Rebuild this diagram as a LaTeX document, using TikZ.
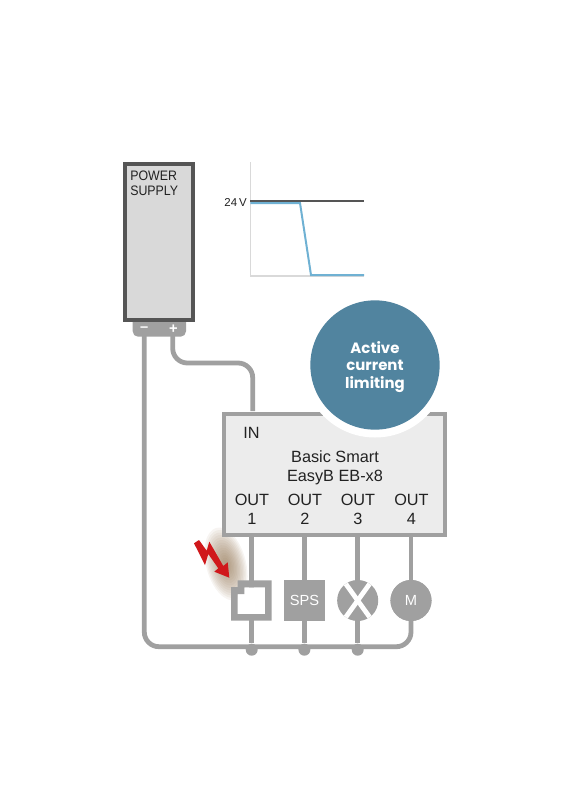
\documentclass[tikz,border=0pt]{standalone}
\usepackage{fontspec}
\setmainfont{Liberation Sans}
\newfontfamily\boldwide{Poppins}[UprightFont=* Bold]
\newfontfamily\narrowf{Liberation Sans}[FakeStretch=0.9]
\definecolor{wirec}{HTML}{A0A0A0}
\definecolor{dark}{HTML}{555555}
\definecolor{psfill}{HTML}{D9D9D9}
\definecolor{boxfill}{HTML}{ECECEC}
\definecolor{teal}{HTML}{51849F}
\definecolor{curve}{HTML}{6FB1D3}
\definecolor{bolt}{HTML}{D0181B}
\definecolor{glow}{HTML}{8A6A45}
\definecolor{txt}{HTML}{222222}
\tikzset{
  x=0.75pt,y=-0.75pt,
  wire/.style={draw=wirec,line width=3.6pt},
  device/.style={rectangle,fill=wirec,minimum width=30.7pt,minimum height=30.5pt,inner sep=0pt,outer sep=0pt},
  round device/.style={circle,fill=wirec,minimum size=30.8pt,inner sep=0pt,outer sep=0pt},
  joint/.style={circle,fill=wirec,minimum size=9pt,inner sep=0pt},
  label/.style={text=txt,font=\fontsize{12.2}{14.2}\selectfont,align=center,inner sep=0pt},
  devlabel/.style={text=white,font=\fontsize{11}{13}\selectfont,inner sep=0pt},
  mainbox/.style={rectangle,draw=wirec,fill=boxfill,line width=3pt,minimum width=165.8pt,minimum height=91pt,inner sep=0pt,outer sep=0pt},
}
\begin{document}
\begin{tikzpicture}
\useasboundingbox (0,0) rectangle (570,807);
% graph
\coordinate (axtop) at (250.3,162);
\coordinate (axorig) at (250.3,276);
\coordinate (axend) at (364,276);
\draw[psfill,line width=0.9pt] (axtop) -- (axorig) -- (axend);
\coordinate (v24a) at (250.3,200.5);
\coordinate (v24b) at (364,200.5);
\draw[dark,line width=1.5pt] (v24a) -- (v24b);
\draw[curve,line width=1.5pt] (250.3,203) -- (300,203) -- (311,275) -- (364,275);
\node[anchor=east,text=txt,font=\fontsize{8.6}{10}\selectfont,inner sep=0pt] (lab24) at (247,202) {24\,V};
% terminal and power supply
\node[rectangle,minimum width=40pt,minimum height=12pt,inner sep=0pt,outer sep=0pt] (term) at (159.4,330) {};
\fill[wirec,rounded corners=4pt] (132.7,315) -- (132.7,336.7) -- (186,336.7) -- (186,315) -- cycle;
\node[rectangle,draw=dark,fill=psfill,line width=3pt,minimum width=51.5pt,minimum height=116.5pt,inner sep=0pt,outer sep=0pt] (ps) at (159,242) {};
\node[anchor=north west,text=txt,inner sep=0pt,align=left,font=\narrowf\fontsize{10.3}{11.2}\selectfont] (pstext) at (130,171) {POWER\\SUPPLY};
\node[text=white,font=\bfseries\fontsize{11}{11}\selectfont,inner sep=0pt] (minus) at (144.3,329.5) {--};
\node[text=white,font=\bfseries\fontsize{11}{11}\selectfont,inner sep=0pt] (plus) at (173.3,329.5) {+};
% glow
\foreach \i in {1,...,14}{
  \fill[glow,opacity=0.07,rotate around={15:(226,564)}] (226,564) ellipse ({0.85*(25-1.6*\i)} and {1.6*(25-1.6*\i)});
}
% devices (positions)
\node[coordinate] (d1) at (251.4,600.5) {};
\node[coordinate] (d2) at (304.5,600.5) {};
\node[coordinate] (d3) at (357.7,600.5) {};
\node[round device] (d4) at (411,600.5) {};
\node[joint] (j1) at (251.7,649.7) {};
\node[joint] (j2) at (304.4,649.7) {};
\node[joint] (j3) at (357.7,649.7) {};
% wires
\coordinate (bl) at (144.3,646.7);
\coordinate (br) at (411,646.7);
\draw[wire,rounded corners=11pt] (144.3,336) -- (bl) -- (br) -- (d4.south);
\coordinate (pw1) at (172.7,363);
\coordinate (pw2) at (252.7,363);
\coordinate (pw3) at (252.7,411);
\draw[wire,rounded corners=11pt] (172.7,336) -- (pw1) -- (pw2) -- (pw3);
\node[mainbox] (box) at (334.8,474.3) {};
\draw[wire] (box.south -| j1) -- (j1);
\draw[wire] (box.south -| j2) -- (j2);
\draw[wire] (box.south -| j3) -- (j3);
\draw[wire] (box.south -| d4) -- (d4);
% device 1: notched square
\fill[white] (244.4,587.3) -- (265,587.3) -- (265,614) -- (237.7,614) -- (237.7,594) -- (244.4,594) -- cycle;
\fill[wirec,even odd rule] (237.7,580.3) -- (271.7,580.3) -- (271.7,620.7) -- (231,620.7) -- (231,587) -- (237.7,587) -- cycle
  (244.4,587.3) -- (265,587.3) -- (265,614) -- (237.7,614) -- (237.7,594) -- (244.4,594) -- cycle;
% bolt
\fill[bolt] (194,543.3) -- (199,540) -- (206.7,550.7) -- (209.3,541.7) -- (223.3,566) -- (227.7,562.3) -- (229.3,577.7) -- (214.3,571.7) -- (218.3,568.3) -- (208.3,554) -- (205,565) -- cycle;
% device 2..4
\node[device] at (d2) {};
\node[devlabel] (sps) at (d2) {SPS};
\node[round device] at (d3) {};
\begin{scope}
\clip (d3) circle (20.5);
\draw[white,line width=3.6pt] (343,580) -- (372.4,621);
\draw[white,line width=3.6pt] (372.4,580) -- (343,621);
\end{scope}
\node[round device] at (d4) {};
\node[devlabel] (m) at (d4) {M};
% halo and circle
\fill[white] (375,365) circle (72.5);
\node[circle,fill=teal,minimum size=97pt,inner sep=0pt,outer sep=0pt] (act) at (375,365) {};
\node[text=white,font=\boldwide\fontsize{11.2}{13.2}\selectfont,align=center,inner sep=0pt] (acttext) at (375,367) {Active\\current\\limiting};
% labels
\node[label] (in) at (251.5,432.5) {IN};
\node[label] (name) at (335,467.5) {Basic Smart\\EasyB EB-x8};
\node[label] (o1) at (252,509) {OUT\\1};
\node[label] (o2) at (305,509) {OUT\\2};
\node[label] (o3) at (358,509) {OUT\\3};
\node[label] (o4) at (411.5,509) {OUT\\4};
\end{tikzpicture}
\end{document}
